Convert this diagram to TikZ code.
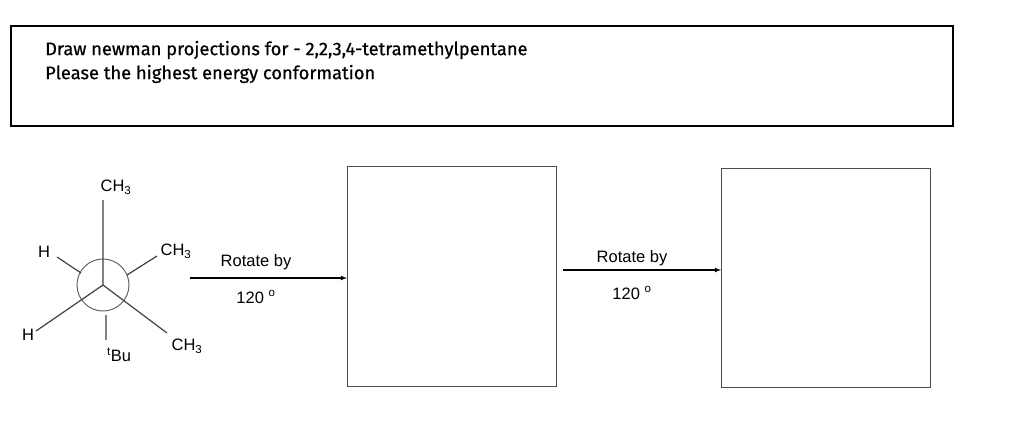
\documentclass[tikz,border=0pt]{standalone}
\usepackage{fontspec}
\setmainfont{Liberation Sans}
\newfontfamily\titlefont[FakeBold=0.6]{Fira Sans}
\begin{document}
\begin{tikzpicture}[x=1pt,y=-1pt,
  bond/.style={draw=black!75,line width=1.2pt},
  lab/.style={font=\fontsize{16.5}{18}\selectfont,inner sep=0pt},
  panel/.style={draw=black!70,line width=1pt},
  arr/.style={-latex,line width=1.1pt}]
\useasboundingbox (0,0) rectangle (1020,421);
\node[draw,line width=2pt,minimum width=942pt,minimum height=100pt,anchor=north west] (top) at (10,25) {};
\node[anchor=west,align=left,font=\titlefont\fontsize{18.3}{24}\selectfont,inner sep=0pt] (q) at (45,62) {Draw newman projections for - 2,2,3,4-tetramethylpentane\\Please the highest energy conformation};
% Newman
\coordinate (c) at (103,285);
\node[draw=black!60,circle,minimum size=52pt,inner sep=0pt,line width=1pt] (circ) at (c) {};
\coordinate (f1) at (103,200);
\coordinate (f2) at (36,331);
\coordinate (f3) at (167,333);
\draw[bond] (c) -- (f1) (c) -- (f2) (c) -- (f3);
\coordinate (b1a) at (81,273); \coordinate (b1b) at (57,257);
\coordinate (b2a) at (127,275); \coordinate (b2b) at (157,256);
\coordinate (b3a) at (106,315); \coordinate (b3b) at (106,340);
\draw[bond] (b1a) -- (b1b) (b2a) -- (b2b) (b3a) -- (b3b);
\node[lab] (l1) at (116,187) {CH\textsubscript{3}};
\node[lab] (l2) at (44,252) {H};
\node[lab] (l3) at (176,251) {CH\textsubscript{3}};
\node[lab] (l4) at (28,335) {H};
\node[lab] (l5) at (187,346) {CH\textsubscript{3}};
\node[lab] (l6) at (119,355) {\textsuperscript{t}Bu};
% boxes
\node[panel,minimum width=209pt,minimum height=220pt,anchor=north west] (box1) at (347,166) {};
\node[panel,minimum width=209pt,minimum height=219pt,anchor=north west] (box2) at (721,168) {};
\draw[arr] (190,278) -- (box1.west |- 0,278);
\draw[arr] (563,270) -- (box2.west |- 0,270);
\node[lab] (r1) at (256,262) {Rotate by};
\node[lab] (r2) at (256,297) {120 \textsuperscript{o}};
\node[lab] (r3) at (632,258) {Rotate by};
\node[lab] (r4) at (632,293) {120 \textsuperscript{o}};
\end{tikzpicture}
\end{document}
